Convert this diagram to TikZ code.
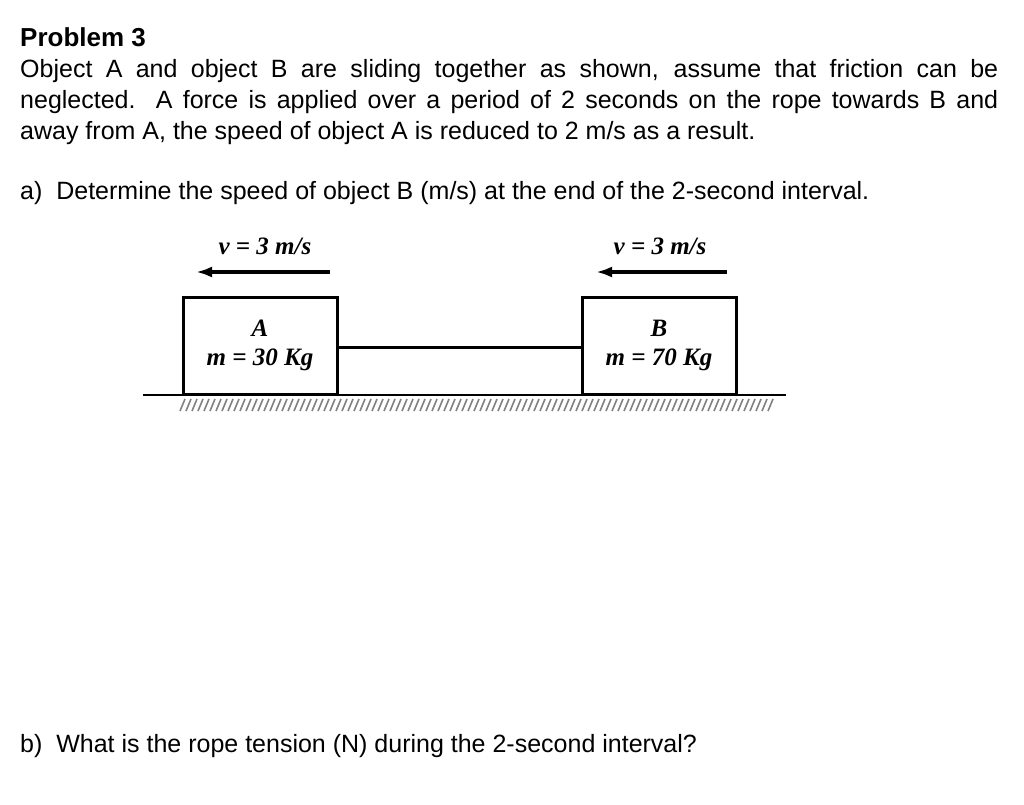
\documentclass[tikz,border=0pt]{standalone}
\usepackage{fontspec}
\setmainfont{Liberation Sans}
\newfontfamily\tms{Liberation Serif}
\usetikzlibrary{arrows.meta}
\begin{document}
\begin{tikzpicture}[x=1pt,y=-1pt,
  txt/.style={anchor=west,inner sep=0pt,font=\fontsize{25}{31}\selectfont},
  lbl/.style={inner sep=0pt,font=\tms\bfseries\itshape\fontsize{25}{28}\selectfont},
  blk/.style={draw,line width=3pt,minimum width=154pt,minimum height=97pt,inner sep=0pt}]
\useasboundingbox (0,0) rectangle (1024,804);
\node[txt,font=\bfseries\fontsize{26}{30}\selectfont] (title) at (20,37) {Problem 3};
\node[txt] (p1) at (20,71) {\makebox[978pt][s]{Object A and object B are sliding together as shown, assume that friction can be}};
\node[txt] (p2) at (20,102) {\makebox[978pt][s]{neglected.\ \ A force is applied over a period of 2 seconds on the rope towards B and}};
\node[txt] (p3) at (20,133) {away from A, the speed of object A is reduced to 2 m/s as a result.};
\node[txt] (qa) at (20,193) {a)\ \ Determine the speed of object B (m/s) at the end of the 2-second interval.};
\node[txt] (qb) at (20,746) {b)\ \ What is the rope tension (N) during the 2-second interval?};
\node[blk] (A) at (260,345.5) {};
\node[blk] (B) at (659,345.5) {};
\node[lbl] (Al) at (260,328) {A};
\node[lbl] (Am) at (260,360) {m = 30 Kg};
\node[lbl] (Bl) at (659,328) {B};
\node[lbl] (Bm) at (659,360) {m = 70 Kg};
\draw[line width=3pt] (A.east |- 0,347) -- (B.west |- 0,347);
\coordinate (g1) at (143,395); \coordinate (g2) at (786,395);
\draw[line width=1.2pt] (g1) -- (g2);
\foreach \x in {180,186,...,770} \draw[gray,line width=1.6pt] (\x+5,399) -- (\x,411);
\node[lbl] (va) at (265,246) {v = 3 m/s};
\node[lbl] (vb) at (660,246) {v = 3 m/s};
\coordinate (a1) at (330,272); \coordinate (a2) at (196,272);
\coordinate (b1) at (727,272); \coordinate (b2) at (596,272);
\draw[line width=4pt,-{Latex[length=16pt,width=11pt]}] (a1) -- (a2);
\draw[line width=4pt,-{Latex[length=16pt,width=11pt]}] (b1) -- (b2);
\end{tikzpicture}
\end{document}
